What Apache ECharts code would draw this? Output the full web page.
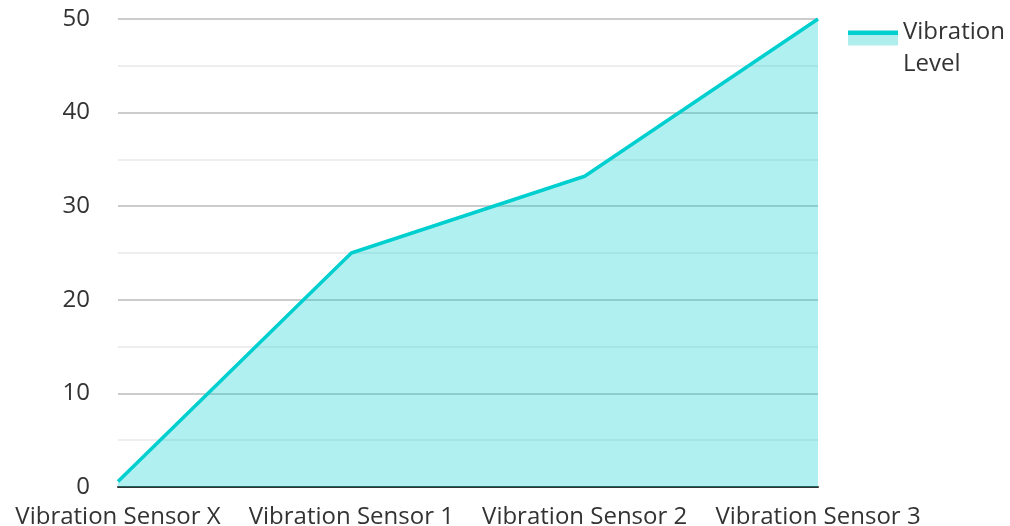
<!DOCTYPE html>
<html><head><meta charset="utf-8">
<script src="https://cdn.jsdelivr.net/npm/echarts@6/dist/echarts.min.js"></script>
<style>html,body{margin:0;padding:0;background:#fff}#c{width:1010px;height:526px}</style>
</head><body><div id="c"></div>
<script>
const categories = ['Vibration Sensor X', 'Vibration Sensor 1', 'Vibration Sensor 2', 'Vibration Sensor 3'];
const values = [0.6, 25, 33.2, 50];
const seriesName = 'Vibration Level';
const chart = echarts.init(document.getElementById('c'));
const font = '"Open Sans", "Noto Sans", sans-serif';
chart.setOption({
  animation: false,
  textStyle: { fontFamily: font },
  grid: { left: 118, right: 192, top: 19, bottom: 39, containLabel: false, outerBoundsMode: 'none' },
  legend: {
    left: 843, top: -4, orient: 'vertical', padding: 5,
    itemWidth: 50, itemHeight: 15, itemGap: 10,
    icon: 'rect',
    itemStyle: {
      color: new echarts.graphic.LinearGradient(0, 0, 0, 1, [
        { offset: 0, color: '#00cfcf' }, { offset: 0.27, color: '#00cfcf' },
        { offset: 0.27, color: '#b0eeee' }, { offset: 1, color: '#b0eeee' }
      ]),
      borderWidth: 0
    },
    lineStyle: { width: 0, opacity: 0 },
    formatter: function (name) {
      const parts = name.split(' ');
      return '{t| }\n{a|' + parts[0] + '}\n{a|' + parts[1] + '}';
    },
    textStyle: {
      fontSize: 24, color: '#333', fontFamily: font,
      rich: {
        t: { fontSize: 10, lineHeight: 21 },
        a: { fontSize: 24, lineHeight: 32, color: '#333', fontFamily: font }
      }
    },
    data: [seriesName]
  },
  xAxis: {
    type: 'category', data: categories, boundaryGap: false,
    axisLine: { show: true, lineStyle: { color: '#333', width: 2 } },
    axisTick: { show: false },
    axisLabel: { fontSize: 24, color: '#333', margin: 18, fontFamily: font, interval: 0 },
    splitLine: { show: false }
  },
  yAxis: {
    type: 'value', min: 0, max: 50, interval: 10,
    axisLine: { show: false }, axisTick: { show: false },
    axisLabel: { fontSize: 24, color: '#333', margin: 28, fontFamily: font },
    splitLine: { show: true, lineStyle: { color: '#cccccc', width: 2 } },
    minorTick: { show: false, splitNumber: 2 },
    minorSplitLine: { show: true, lineStyle: { color: '#eeeeee', width: 2 } }
  },
  series: [{
    name: seriesName, type: 'line', data: values, symbol: 'none',
    lineStyle: { color: '#00cfcf', width: 3.5 },
    itemStyle: { color: '#00cfcf' },
    areaStyle: { color: '#00cfcf', opacity: 0.31 }
  }]
});
</script></body></html>
